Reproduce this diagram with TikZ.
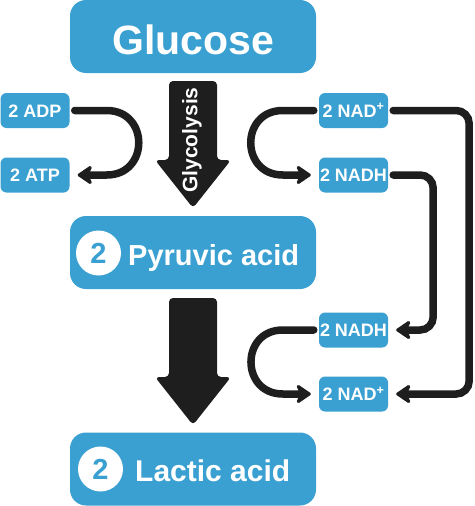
\documentclass[tikz,border=0pt]{standalone}
\usepackage{fontspec}
\setmainfont{Liberation Sans}
\usepackage{tikz}
\usetikzlibrary{positioning,arrows.meta}
\definecolor{cellblue}{RGB}{58,160,209}
\definecolor{inkblack}{RGB}{30,30,30}

\begin{document}
\begin{tikzpicture}[x=1pt,y=-1pt,
	bigbox/.style={fill=cellblue, rounded corners=16pt, minimum width=246pt, minimum height=73pt, inner sep=0pt},
	smallbox/.style={fill=cellblue, rounded corners=6pt, minimum width=69pt, minimum height=35pt, inner sep=0pt, text=white, text height=13pt, text depth=0pt, font=\bfseries\fontsize{18}{18}\selectfont},
	numdot/.style={circle, fill=white, minimum size=45pt, inner sep=0pt, text=cellblue, font=\bfseries\fontsize{29}{29}\selectfont},
	bigtext/.style={text=white, inner sep=0pt, anchor=base west},
	flow/.style={draw=inkblack, line width=7.5pt, line cap=round, shorten <=5pt, shorten >=8pt, -{Stealth[length=17pt,width=23pt,inset=5pt,round]}}]
	\useasboundingbox (0,0) rectangle (474,506);
	
	% big boxes
	\node[bigbox, text=white, text height=35pt, text depth=0pt, font=\bfseries\fontsize{41}{41}\selectfont] (glucose) at (193,36.5) {Glucose};
	\node[bigbox] (pyruvic) at (193,252.5) {};
	\node[bigbox] (lactic) at (193,469) {};
	
	\node[numdot] (pyrtwo) at (98.5,253) {2};
	\node[bigtext, font=\bfseries\fontsize{29}{29}\selectfont] (pyrlabel) at (128,265) {Pyruvic acid};
	\node[numdot] (lactwo) at (100.5,469) {2};
	\node[bigtext, font=\bfseries\fontsize{30}{30}\selectfont] (laclabel) at (135,481) {Lactic acid};
	
	% thick arrows
	\foreach \top/\head in {81/160, 298/377} {
		\fill[inkblack, rounded corners=4pt] (169,\top) -- (217,\top) -- (217,\head) -- (231,\head) -- (193,\head+48) -- (155,\head) -- (169,\head) -- cycle;
	}
	\node[rotate=90, text=white, font=\bfseries\fontsize{21}{21}\selectfont] (glyco) at (192,140) {Glycolysis};
	
	% small boxes
	\node[smallbox] (adp) at (35,110.5) {2 ADP};
	\node[smallbox] (atp) at (35,175) {2 ATP};
	\node[smallbox] (nadtop) at (353.5,110.5) {2 NAD\textsuperscript{+}};
	\node[smallbox] (nadhtop) at (353.5,175) {2 NADH};
	\node[smallbox] (nadhlow) at (353.5,330) {2 NADH};
	\node[smallbox] (nadlow) at (353.5,394) {2 NAD\textsuperscript{+}};
	
	% connectors
	\draw[flow] (adp.east) -- ++(37,0) to[out=0,in=0,looseness=1.7] ++(0,64.5) -- (atp.east);
	\draw[flow] (nadtop.west) -- ++(-36,0) to[out=180,in=180,looseness=1.7] ++(0,64.5) -- (nadhtop.west);
	\draw[flow] (nadhlow.west) -- ++(-36,0) to[out=180,in=180,looseness=1.7] ++(0,64) -- (nadlow.west);
	\draw[flow, rounded corners=13pt] (nadtop.east) -- ++(81,0) |- (nadlow.east);
	\draw[flow, rounded corners=13pt] (nadhtop.east) -- ++(45,0) |- (nadhlow.east);
\end{tikzpicture}
\end{document}
